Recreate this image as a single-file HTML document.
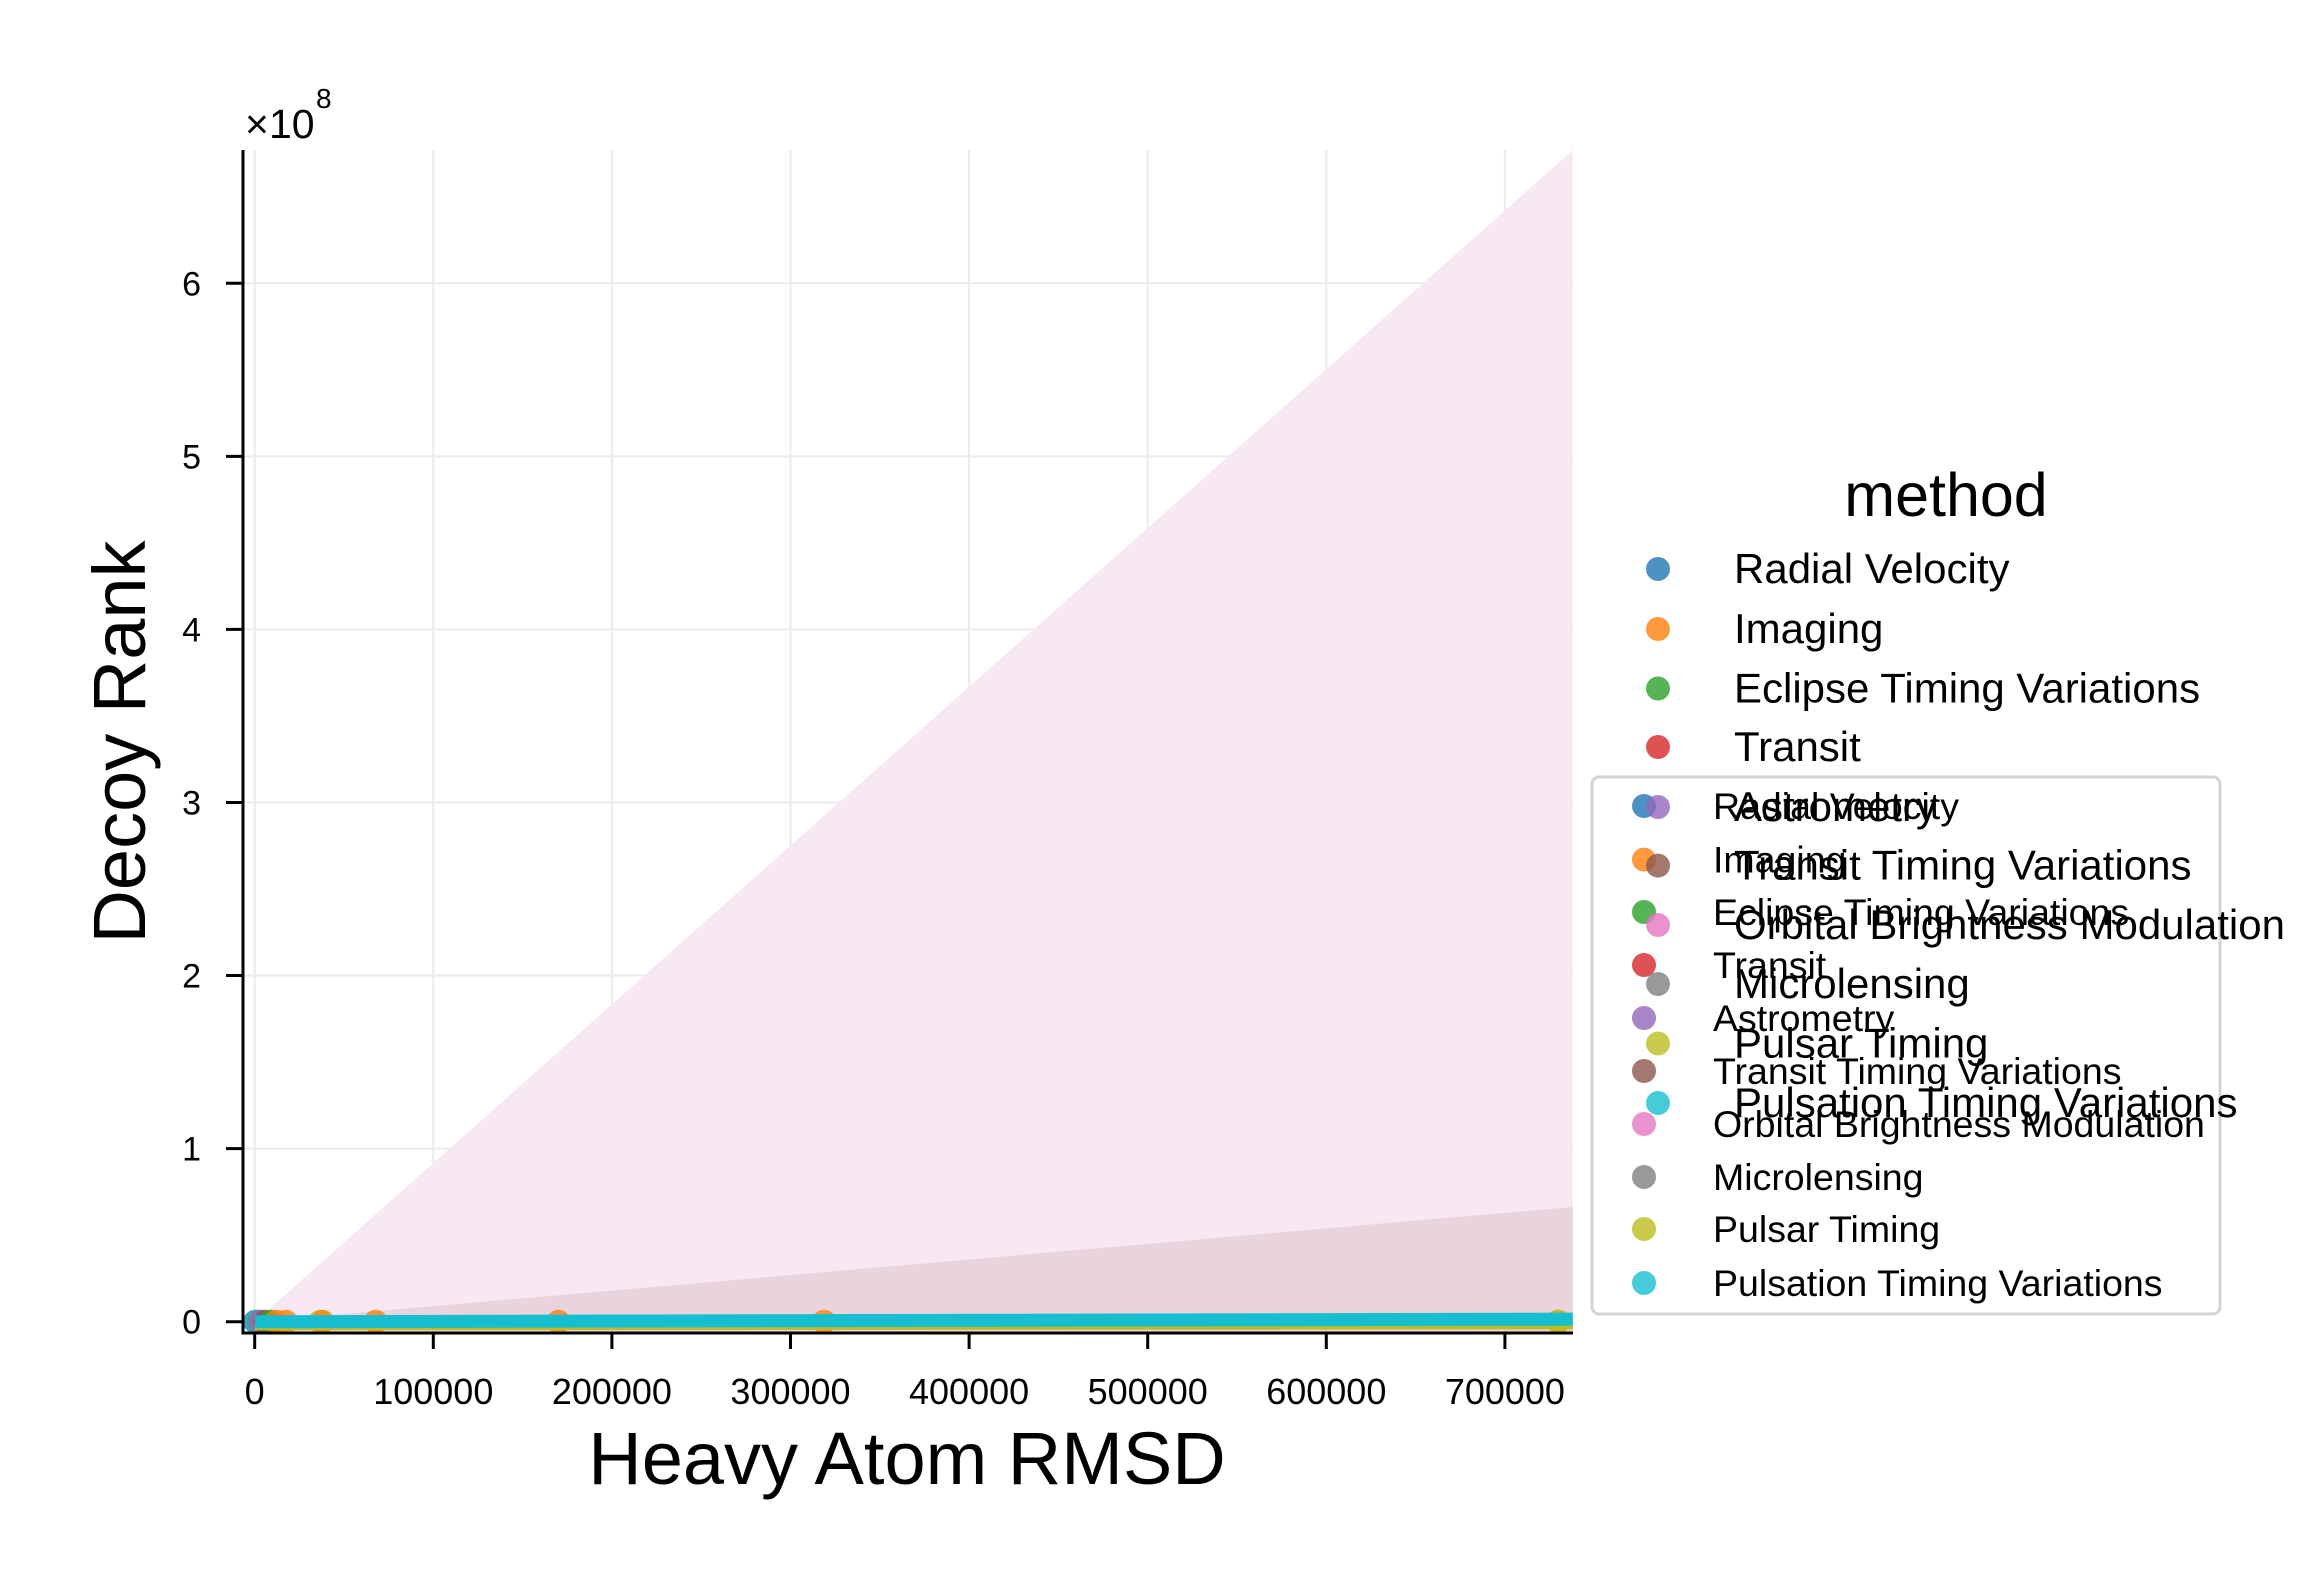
<!DOCTYPE html>
<html><head><meta charset="utf-8"><style>
body{margin:0;background:#fff}
svg{display:block;font-family:"Liberation Sans",Arial,sans-serif}
</style></head><body>
<svg id="chart" width="2315" height="1590" viewBox="0 0 2315 1590" xmlns="http://www.w3.org/2000/svg">
<g id="grid"></g>
<g id="bands"></g>
<g id="points"></g>
<g id="lines"></g>
<g id="axes"></g>
<g id="legend2"></g>
<g id="legend1"></g>
</svg>
<script>
const methods = ["Radial Velocity","Imaging","Eclipse Timing Variations","Transit","Astrometry","Transit Timing Variations","Orbital Brightness Modulation","Microlensing","Pulsar Timing","Pulsation Timing Variations"];
const colors = ["#1f77b4","#ff7f0e","#2ca02c","#d62728","#9467bd","#8c564b","#e377c2","#7f7f7f","#bcbd22","#17becf"];
const xTicks = [0,100000,200000,300000,400000,500000,600000,700000];
const xTickLabels = ["0","100000","200000","300000","400000","500000","600000","700000"];
const yTicks = [0,1e8,2e8,3e8,4e8,5e8,6e8];
const yTickLabels = ["0","1","2","3","4","5","6"];
// scatter points: x value, y value, method index
const pointX = [300,1200,2500,4000,6000,9000,12000,17500,36600,38000,67700,170000,318800,729800,729800];
const pointY = [0,0,0,0,0,0,0,0,0,0,0,0,0,0,0];
const pointM = [0,9,7,4,5,2,1,1,8,1,1,1,1,1,8];
// confidence bands
const bandX = [0,738000];
const lightUpper = [0.0e8,6.77e8];
const lightLower = [-0.2e8,-0.2e8];
const darkUpper = [0.0e8,0.663e8];
const darkLower = [-0.2e8,-0.2e8];
// regression lines
const lineX = [0,738000];
const yellowLine = [-0.035e8,-0.03e8];
const cyanLine = [0.0,0.015e8];

const L=243,R=1573,T=150,B=1333;
const x0px=254.7, xPer=178.6/100000, y0px=1321.7, yPer=173.07/1e8;
const sx=v=>x0px+v*xPer, sy=v=>y0px-v*yPer;
const NS="http://www.w3.org/2000/svg";
function mk(tag,attrs,parent){const e=document.createElementNS(NS,tag);for(const k in attrs)e.setAttribute(k,attrs[k]);parent.appendChild(e);return e;}
const $=id=>document.getElementById(id);
const defs=mk("defs",{},$("chart"));
const cp=mk("clipPath",{id:"plotclip"},defs);
mk("rect",{x:L,y:T,width:R-L,height:B-T},cp);
["grid","bands","points","lines"].forEach(id=>$(id).setAttribute("clip-path","url(#plotclip)"));

xTicks.forEach(v=>{const l=mk("line",{x1:sx(v),x2:sx(v),y1:T,y2:B,stroke:"#ebebeb","stroke-width":2},$("grid"));

});
yTicks.forEach(v=>{const l=mk("line",{x1:L,x2:R,y1:sy(v),y2:sy(v),stroke:"#ebebeb","stroke-width":2},$("grid"));

});

function band(up,lo,fill,name){const p=[[sx(bandX[0]),sy(up[0])],[sx(bandX[1]),sy(up[1])],[sx(bandX[1]),sy(lo[1])],[sx(bandX[0]),sy(lo[0])]];
const e=mk("polygon",{points:p.map(q=>q.join(",")).join(" "),fill:fill},$("bands"));

}
band(lightUpper,lightLower,"#f8e8f3","ci-band-light");
band(darkUpper,darkLower,"#e9d3dc","ci-band-dark");

pointX.forEach((v,i)=>{const c=mk("circle",{cx:sx(v),cy:sy(pointY[i]),r:12,fill:colors[pointM[i]],"fill-opacity":0.8},$("points"));

});

const yl=mk("line",{x1:sx(lineX[0]),y1:sy(yellowLine[0]),x2:sx(lineX[1]),y2:sy(yellowLine[1]),stroke:"#bcbd22","stroke-width":5},$("lines"));


const cl=mk("line",{x1:sx(lineX[0]),y1:sy(cyanLine[0]),x2:sx(lineX[1]),y2:sy(cyanLine[1]),stroke:"#17becf","stroke-width":13},$("lines"));



const ax=$("axes");
let e=mk("line",{x1:L,y1:T,x2:L,y2:B+1.5,stroke:"#000","stroke-width":3},ax);


e=mk("line",{x1:L-1.5,y1:B,x2:R,y2:B,stroke:"#000","stroke-width":3},ax);


xTicks.forEach((v,i)=>{const t=mk("line",{x1:sx(v),x2:sx(v),y1:B,y2:B+16,stroke:"#000","stroke-width":3},ax);


const tx=mk("text",{x:sx(v),y:1404,"text-anchor":"middle","font-size":36},ax);tx.textContent=xTickLabels[i];

});
yTicks.forEach((v,i)=>{const t=mk("line",{x1:L-17,x2:L,y1:sy(v),y2:sy(v),stroke:"#000","stroke-width":3},ax);


const tx=mk("text",{x:201,y:sy(v)+12,"text-anchor":"end","font-size":34},ax);tx.textContent=yTickLabels[i];

});
e=mk("text",{x:245,y:138,"font-size":41},ax);e.textContent="×10";


e=mk("text",{x:316,y:108,"font-size":28},ax);e.textContent="8";


e=mk("text",{x:907,y:1484,"text-anchor":"middle","font-size":74},ax);e.textContent="Heavy Atom RMSD";


e=mk("text",{x:0,y:0,"text-anchor":"middle","font-size":74,transform:"translate(145,742) rotate(-90)"},ax);e.textContent="Decoy Rank";



const lg2=$("legend2");
e=mk("rect",{x:1592,y:777,width:628,height:537,rx:7,fill:"#fff","fill-opacity":0.8,stroke:"#d3d3d3","stroke-width":3},lg2);


const l2y=[806,859.6,912,965,1018,1071,1124,1177,1229,1283];
methods.forEach((m,i)=>{const c=mk("circle",{cx:1644,cy:l2y[i],r:12,fill:colors[i],"fill-opacity":0.8},lg2);


const t=mk("text",{x:1713,y:l2y[i]+13,"font-size":37.5},lg2);t.textContent=m;

});

const lg1=$("legend1");
e=mk("text",{x:1946,y:516,"text-anchor":"middle","font-size":61},lg1);e.textContent="method";


const l1y=[569,629,688.5,747,807,865.6,925,984,1043.5,1103];
methods.forEach((m,i)=>{const c=mk("circle",{cx:1658,cy:l1y[i],r:12,fill:colors[i],"fill-opacity":0.8},lg1);


const t=mk("text",{x:1734,y:l1y[i]+14,"font-size":42},lg1);t.textContent=m;

});
</script>
</body></html>
